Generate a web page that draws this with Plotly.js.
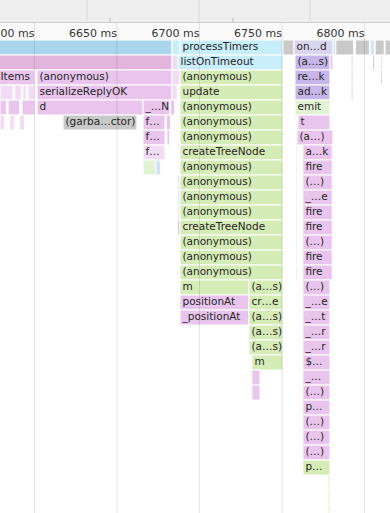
<!DOCTYPE html>
<html><head><meta charset="utf-8">
<script src="https://cdn.plot.ly/plotly-3.0.1.min.js"></script>
<style>html,body{margin:0;padding:0;background:#fff;}#chart{width:390px;height:513px;}</style>
</head><body><div id="chart"></div>
<script>
// ---- data: time axis ----
const tickValues = [6600, 6650, 6700, 6750, 6800];
const tickLabels = ['6600 ms', '6650 ms', '6700 ms', '6750 ms', '6800 ms'];

// ---- data: flame chart frames (one line per stack depth) ----
const frameRow = [
  0,0,0,0,0,0,0,0,0,0,0,
  1,1,1,1,1,1,1,1,
  2,2,2,2,2,2,2,
  3,3,3,3,3,3,3,3,3,
  4,4,4,4,4,4,4,4,
  5,5,5,5,5,5,5,5,
  6,6,6,6,
  7,7,7,7,
  8,8,8,8,8,
  9,9,9,9,
  10,10,10,10,
  11,11,11,11,
  12,12,12,12,
  13,13,13,
  14,14,14,
  15,15,15,
  16,16,16,
  17,17,17,
  18,18,18,
  19,19,
  20,20,
  21,21,
  22,22,
  23,23,
  24,
  25,
  26,
  27,
  28,
  29,30,31
];
const frameStart = [
  6560,6683.3,6688.2,6750.6,6757.3,6780.9,6782.7,6794.5,6803.5,6806.5,6812.5,
  6560,6683.3,6687.0,6757.9,6779.1,6792,6805,6810,
  6560,6601.5,6683.3,6688.2,6757.9,6792,6810,
  6579.1,6588,6593,6596,6601.5,6683.3,6688.2,6757.9,6792,
  6579.1,6584,6592.5,6601.5,6665.8,6682.5,6688.2,6757.9,
  6579.1,6585,6591,6617.3,6665.8,6680,6688.2,6759.7,
  6665.8,6680.3,6688.2,6759.1,
  6665.8,6688.2,6758.5,6762.7,
  6665.8,6673.5,6688.2,6758.5,6762.7,
  6686.8,6688.2,6758.5,6762.7,
  6686.8,6688.2,6758.5,6762.7,
  6686.8,6688.2,6758.5,6762.7,
  6686.8,6688.2,6758.5,6762.7,
  6688.2,6758.5,6762.7,
  6688.2,6758.5,6762.7,
  6688.2,6758.5,6762.7,
  6688.2,6730,6762.7,
  6688.2,6730,6762.7,
  6688.2,6730,6762.7,
  6730,6762.7,
  6730,6762.7,
  6731.8,6762.7,
  6731.8,6762.7,
  6731.8,6762.7,
  6762.7,
  6762.7,
  6762.7,
  6762.7,
  6762.7,
  6778,6778,6778
];
const frameEnd = [
  6683.3,6688.2,6750.6,6757.3,6780.9,6782.7,6793.5,6803,6806,6812,6820,
  6683.3,6687.0,6750.6,6779.1,6780.9,6793,6806,6811,
  6600.3,6683.3,6688.2,6750.6,6779.1,6793,6811,
  6587,6592,6595,6600.3,6683.3,6686.5,6750.6,6779.1,6793,
  6583,6591,6600.3,6665.8,6682.1,6685,6750.6,6779.1,
  6582,6588,6594,6662.1,6679.1,6682.5,6750.6,6779.1,
  6679.1,6682,6750.6,6780.9,
  6679.1,6750.6,6759.5,6780.5,
  6673.5,6676.5,6750.6,6759.5,6780.5,
  6688.2,6750.6,6759.5,6780.5,
  6688.2,6750.6,6759.5,6780.5,
  6688.2,6750.6,6759.5,6780.5,
  6688.2,6750.6,6759.5,6780.5,
  6750.6,6759.5,6780.5,
  6750.6,6759.5,6780.5,
  6750.6,6759.5,6780.5,
  6730,6750.6,6779.1,
  6730,6750.6,6779.1,
  6730,6750.6,6779.1,
  6750.6,6779.1,
  6750.6,6779.1,
  6750.6,6779.1,
  6736.7,6779.1,
  6736.7,6779.1,
  6779.1,
  6779.1,
  6779.1,
  6779.1,
  6779.1,
  6779.1,6779.1,6779.1
];
const frameKind = [
  'timerDark','timer','timer','gc','native','idle','gc','gc','idle','gc','gc',
  'timerCb','scriptPale','timer','lib','script','lib','lib','script',
  'script','script','scriptPale','app','lib','lib','lib',
  'scriptPale','scriptPale','scriptPale','scriptPale','script','scriptPale','app','lib','lib',
  'script','script','script','script','script','script','app','appPale',
  'scriptPale','scriptPale','scriptPale','gc','script','script','app','script',
  'script','script','app','script',
  'scriptPale','app','appPale','script',
  'appPale','idle','app','appPale','script',
  'idle','app','appPale','script',
  'idle','app','appPale','script',
  'appPale','app','appPale','script',
  'gc','app','appPale','script',
  'app','appPale','script',
  'app','appPale','script',
  'app','appPale','script',
  'app','app','script',
  'script','app','script',
  'script','app','script',
  'app','script',
  'app','script',
  'app','script',
  'script','script',
  'script','script',
  'script',
  'script',
  'script',
  'script',
  'app',
  'app','app','app'
];
const frameName = [
  '','','processTimers','','on…d','','','','','','',
  '','','listOnTimeout','(a…s)','','','','',
  'Items','(anonymous)','','(anonymous)','re…k','','',
  '','','','','serializeReplyOK','','update','ad…k','',
  '','','','d','_…N','','(anonymous)','emit',
  '','','','(garba…ctor)','f…','','(anonymous)','t',
  'f…','','(anonymous)','(a…)',
  'f…','createTreeNode','','a…k',
  '','','(anonymous)','','fire',
  '','(anonymous)','','(…)',
  '','(anonymous)','','_…e',
  '','(anonymous)','','fire',
  '','createTreeNode','','fire',
  '(anonymous)','','(…)',
  '(anonymous)','','fire',
  '(anonymous)','','fire',
  'm','(a…s)','(…)',
  'positionAt','cr…e','_…e',
  '_positionAt','(a…s)','_…t',
  '(a…s)','_…r',
  '(a…s)','_…r',
  'm','$…',
  '','_…',
  '','(…)',
  'p…',
  '(…)',
  '(…)',
  '(…)',
  'p…',
  '','',''
];

// ---- styles ----
const kindColor = {
  timerDark: '#a9d6ec', timer: '#c8eef9', timerCb: '#e4b5dc',
  script: '#e9c5ee', scriptPale: '#f2dcf3', app: '#d6ecb6', appPale: '#e3f2d4',
  lib: '#c7b6ea', gc: '#c9c9c9', native: '#dad5ee', idle: '#d4e4f6'
};
const xMin = 6579.1, xMax = 6815.5;
const pxPerMs = 390 / (xMax - xMin);
const labelPad = 2.5 / pxPerMs;
const plotH = 473;
const py = Y => (513 - Y) / plotH; // page pixel (from top) -> paper y

const barTrace = {
  type: 'bar', orientation: 'h',
  y: frameRow, base: frameStart,
  x: frameStart.map((s, i) => frameEnd[i] - s),
  width: 1,
  marker: { color: frameKind.map(k => kindColor[k]), line: { color: '#ffffff', width: 1 } },
  hoverinfo: 'skip', showlegend: false
};
const labIdx = frameName.map((n, i) => n ? i : -1).filter(i => i >= 0);
const textTrace = {
  type: 'scatter', mode: 'text',
  x: labIdx.map(i => Math.max(frameStart[i], xMin) + (frameStart[i] < xMin ? 0.3 : labelPad)),
  y: labIdx.map(i => frameRow[i]),
  text: labIdx.map(i => frameName[i]),
  textposition: 'middle right',
  textfont: { family: 'DejaVu Sans', size: 10.5, color: '#262626' },
  hoverinfo: 'skip', showlegend: false
};

const shapes = [
  { type: 'rect', xref: 'paper', yref: 'paper', x0: 0, x1: 1, y0: py(22), y1: py(0), fillcolor: '#eeeeee', line: { width: 0 }, layer: 'below' },
  { type: 'rect', xref: 'paper', yref: 'paper', x0: 0, x1: 1, y0: 1, y1: py(22), fillcolor: '#fafafa', line: { width: 0 }, layer: 'below' },
  { type: 'line', xref: 'paper', yref: 'paper', x0: 0, x1: 1, y0: py(22.5), y1: py(22.5), line: { color: '#cccccc', width: 1 }, layer: 'below' }
];
[87, 199, 310].forEach(px => shapes.push({ type: 'line', xref: 'paper', yref: 'paper', x0: px / 390, x1: px / 390, y0: py(22), y1: py(0), line: { color: '#d9d9d9', width: 1 }, layer: 'below' }));
[110, 233].forEach(px => shapes.push({ type: 'line', xref: 'paper', yref: 'paper', x0: px / 390, x1: px / 390, y0: py(22), y1: py(18), line: { color: '#bbbbbb', width: 1 }, layer: 'below' }));
tickValues.forEach(t => shapes.push({ type: 'line', xref: 'x', yref: 'paper', x0: t, x1: t, y0: 0, y1: py(23), line: { color: 'rgba(0,0,0,0.11)', width: 1 }, layer: 'above' }));

const layout = {
  width: 390, height: 513,
  margin: { l: 0, r: 0, t: 40, b: 0, pad: 0 },
  paper_bgcolor: '#ffffff', plot_bgcolor: '#ffffff',
  barmode: 'overlay', bargap: 0,
  showlegend: false,
  xaxis: {
    side: 'top', range: [xMin, xMax], autorange: false,
    tickvals: tickValues, ticktext: tickLabels,
    ticks: '', showgrid: false, zeroline: false, showline: false,
    ticklabelposition: 'outside left', ticklabeloverflow: 'allow',
    tickfont: { family: 'DejaVu Sans', size: 11, color: '#333333' },
    fixedrange: true
  },
  yaxis: {
    range: [31.03, -0.5], autorange: false,
    showticklabels: false, showgrid: false, zeroline: false, showline: false, ticks: '',
    fixedrange: true
  },
  shapes: shapes
};

Plotly.newPlot('chart', [barTrace, textTrace], layout, { displayModeBar: false, staticPlot: true });
</script>
</body></html>
